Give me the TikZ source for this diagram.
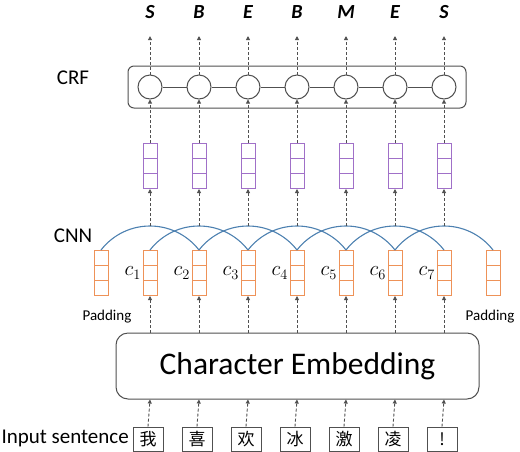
\documentclass[tikz,border=0pt]{standalone}
\usepackage{fontspec}
\setmainfont{Carlito}
\newfontfamily\cjk{Noto Sans CJK SC}
\usetikzlibrary{positioning,fit,arrows.meta}

\definecolor{cnnorange}{RGB}{238,146,88}
\definecolor{outpurple}{RGB}{160,112,200}
\definecolor{arcblue}{RGB}{76,128,176}
\definecolor{linegray}{RGB}{80,80,80}

\tikzset{
cell/.style={draw=#1, line width=1pt, minimum width=14pt, minimum height=45pt, inner sep=0pt,
  path picture={\draw[#1, line width=1pt]
    ([yshift=-15pt]path picture bounding box.north west) -- ([yshift=-15pt]path picture bounding box.north east)
    ([yshift=15pt]path picture bounding box.south west) -- ([yshift=15pt]path picture bounding box.south east);}},
flow/.style={linegray, line width=0.9pt, dash pattern=on 3pt off 2pt, -{Triangle[length=4pt,width=4pt]}},
tag/.style={font=\fontsize{20}{24}\selectfont\bfseries\itshape},
side/.style={font=\fontsize{21}{24}\selectfont},
}

\begin{document}
\begin{tikzpicture}[x=1pt,y=-1pt]
\useasboundingbox (0,0) rectangle (520,451);

% output tags
\foreach \t [count=\i] in {S,B,E,B,M,E,S}
  \node[tag] (t\i) at ({101+49*\i},12) {\t};

% crf layer
\foreach \i in {1,...,7}
  \node[draw=linegray, line width=1pt, circle, minimum size=24pt, inner sep=0pt] (k\i) at ({101+49*\i},87) {};
\node[draw=linegray, line width=1pt, rounded corners=6pt, inner xsep=9.5pt, inner ysep=8.5pt, fit=(k1)(k7)] (crf) {};
\node[side] (crflab) at (73,78) {CRF};
\foreach \i [count=\j from 2] in {1,...,6}
  \draw[linegray, line width=1pt] (k\i) -- (k\j);

% cnn outputs
\foreach \i in {1,...,7}
  \node[cell=outpurple] (p\i) at ({101+49*\i},166) {};

% cnn inputs with padding
\node[cell=cnnorange] (o0) at (101,273) {};
\foreach \i in {1,...,7}
  \node[cell=cnnorange, label={[inner sep=1.5pt, font=\fontsize{22}{22}\selectfont]left:$c_{\i}$}] (o\i) at ({101+49*\i},273) {};
\node[cell=cnnorange] (o8) at (493,273) {};
\node[font=\fontsize{15}{18}\selectfont] (padl) at (107,317) {Padding};
\node[font=\fontsize{15}{18}\selectfont] (padr) at (490,317) {Padding};
\node[side] (cnnlab) at (73,236) {CNN};

% convolution windows
\foreach \i in {0,...,6}
  \draw[arcblue, line width=1.1pt] (o\i.north) .. controls +(25,-32) and +(-25,-32) .. (o\the\numexpr\i+2\relax.north)
    coordinate[pos=.5] (a\the\numexpr\i+1\relax);

% embedding
\node[draw=linegray, line width=1pt, rounded corners=12pt, minimum width=363pt, minimum height=66pt,
  font=\fontsize{31.5}{36}\selectfont] (emb) at (297.5,366) {Character Embedding};

% input sentence
\foreach \c [count=\i] in {我,喜,欢,冰,激,凌,!}
  \node[draw=linegray, line width=0.9pt, minimum width=30pt, minimum height=24pt, inner sep=0pt,
    font=\cjk\fontsize{17}{18}\selectfont] (w\i) at ({99+49*\i},439) {\c};
\node[side, anchor=east, inner sep=0pt] (inlab) at (129,438) {Input sentence};

% arrows
\foreach \i in {1,...,7} {
  \draw[flow] (w\i.north) -- (emb.south -| o\i);
  \draw[flow] (emb.north -| o\i) -- (o\i.south);
  \draw[flow] (a\i) -- (p\i.south);
  \draw[flow] (p\i.north) -- (k\i.south);
  \draw[flow] (k\i.north) -- ([yshift=-14pt]t\i.south);
}
\end{tikzpicture}
\end{document}
